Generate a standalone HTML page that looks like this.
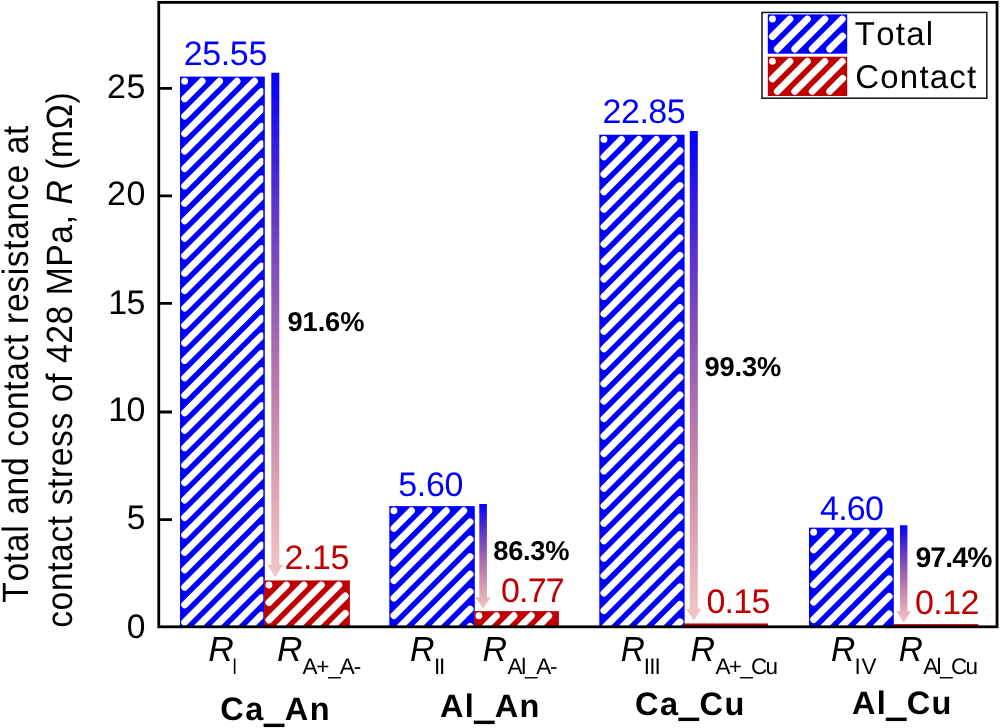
<!DOCTYPE html>
<html lang="en">
<head>
<meta charset="utf-8">
<title>Total and contact resistance</title>
<style>
html,body{margin:0;padding:0;background:#fff;}
body{width:1000px;height:728px;overflow:hidden;}
svg{display:block;}
text{font-family:"Liberation Sans", sans-serif;font-kerning:none;text-rendering:geometricPrecision;}
</style>
</head>
<body>
<svg width="1000" height="728" viewBox="0 0 1000 728">
<defs>
<linearGradient id="ag" x1="0" y1="0" x2="0" y2="1"><stop offset="0" stop-color="#0000FF" stop-opacity="1"/><stop offset="1" stop-color="#C00000" stop-opacity="0.22"/></linearGradient>
<clipPath id="c0"><rect x="180" y="76.61" width="83.3" height="550.09"/></clipPath>
<clipPath id="c1"><rect x="264.3" y="580.41" width="85.6" height="46.29"/></clipPath>
<clipPath id="c2"><rect x="389.3" y="506.13" width="85.5" height="120.57"/></clipPath>
<clipPath id="c3"><rect x="474.3" y="611.1" width="84.6" height="15.6"/></clipPath>
<clipPath id="c4"><rect x="599.3" y="134.74" width="85.3" height="491.96"/></clipPath>
<clipPath id="c5"><rect x="684.3" y="623.47" width="83.7" height="3.23"/></clipPath>
<clipPath id="c6"><rect x="809" y="527.66" width="84.8" height="99.04"/></clipPath>
<clipPath id="c7"><rect x="893.5" y="624.12" width="84.9" height="2.58"/></clipPath>
</defs>
<rect width="1000" height="728" fill="#fff"/>
<rect x="180" y="76.61" width="84.8" height="550.59" fill="#0000FF"/>
<path d="M184.65 81.26L184.65 81.26M184.65 98.71L202.1 81.26M184.65 116.16L219.55 81.26M184.65 133.61L237 81.26M184.65 151.06L254.45 81.26M184.65 168.51L261.6 91.56M184.65 185.96L261.6 109.01M184.65 203.41L261.6 126.46M184.65 220.86L261.6 143.91M184.65 238.31L261.6 161.36M184.65 255.76L261.6 178.81M184.65 273.21L261.6 196.26M184.65 290.66L261.6 213.71M184.65 308.11L261.6 231.16M184.65 325.56L261.6 248.61M184.65 343.01L261.6 266.06M184.65 360.46L261.6 283.51M184.65 377.91L261.6 300.96M184.65 395.36L261.6 318.41M184.65 412.81L261.6 335.86M184.65 430.26L261.6 353.31M184.65 447.71L261.6 370.76M184.65 465.16L261.6 388.21M184.65 482.61L261.6 405.66M184.65 500.06L261.6 423.11M184.65 517.51L261.6 440.56M184.65 534.96L261.6 458.01M184.65 552.41L261.6 475.46M184.65 569.86L261.6 492.91M184.65 587.31L261.6 510.36M184.65 604.76L261.6 527.81M184.65 622.21L261.6 545.26M197.61 626.7L261.6 562.71M215.06 626.7L261.6 580.16M232.51 626.7L261.6 597.61M249.96 626.7L261.6 615.06" stroke="#fff" stroke-width="6.9" stroke-linecap="round" fill="none" clip-path="url(#c0)"/>
<rect x="264.3" y="580.41" width="85.6" height="46.79" fill="#C00000"/>
<path d="M268.95 585.06L268.95 585.06M268.95 602.51L286.4 585.06M268.95 619.96L303.85 585.06M279.66 626.7L321.3 585.06M297.11 626.7L338.75 585.06M314.56 626.7L345.25 596.01M332.01 626.7L345.25 613.46" stroke="#fff" stroke-width="6.9" stroke-linecap="round" fill="none" clip-path="url(#c1)"/>
<rect x="389.3" y="506.13" width="85.5" height="121.07" fill="#0000FF"/>
<path d="M393.95 510.78L393.95 510.78M393.95 528.23L411.4 510.78M393.95 545.68L428.85 510.78M393.95 563.13L446.3 510.78M393.95 580.58L463.75 510.78M393.95 598.03L470.15 521.83M393.95 615.48L470.15 539.28M400.18 626.7L470.15 556.73M417.63 626.7L470.15 574.18M435.08 626.7L470.15 591.63M452.53 626.7L470.15 609.08M469.98 626.7L470.15 626.53" stroke="#fff" stroke-width="6.9" stroke-linecap="round" fill="none" clip-path="url(#c2)"/>
<rect x="474.3" y="611.1" width="84.6" height="16.1" fill="#C00000"/>
<path d="M478.95 615.75L478.95 615.75M485.45 626.7L496.4 615.75M502.9 626.7L513.85 615.75M520.35 626.7L531.3 615.75M537.8 626.7L548.75 615.75" stroke="#fff" stroke-width="6.9" stroke-linecap="round" fill="none" clip-path="url(#c3)"/>
<rect x="599.3" y="134.74" width="85.3" height="492.46" fill="#0000FF"/>
<path d="M603.95 139.39L603.95 139.39M603.95 156.84L621.4 139.39M603.95 174.29L638.85 139.39M603.95 191.74L656.3 139.39M603.95 209.19L673.75 139.39M603.95 226.64L679.95 150.64M603.95 244.09L679.95 168.09M603.95 261.54L679.95 185.54M603.95 278.99L679.95 202.99M603.95 296.44L679.95 220.44M603.95 313.89L679.95 237.89M603.95 331.34L679.95 255.34M603.95 348.79L679.95 272.79M603.95 366.24L679.95 290.24M603.95 383.69L679.95 307.69M603.95 401.14L679.95 325.14M603.95 418.59L679.95 342.59M603.95 436.04L679.95 360.04M603.95 453.49L679.95 377.49M603.95 470.94L679.95 394.94M603.95 488.39L679.95 412.39M603.95 505.84L679.95 429.84M603.95 523.29L679.95 447.29M603.95 540.74L679.95 464.74M603.95 558.19L679.95 482.19M603.95 575.64L679.95 499.64M603.95 593.09L679.95 517.09M603.95 610.54L679.95 534.54M605.24 626.7L679.95 551.99M622.69 626.7L679.95 569.44M640.14 626.7L679.95 586.89M657.59 626.7L679.95 604.34M675.04 626.7L679.95 621.79" stroke="#fff" stroke-width="6.9" stroke-linecap="round" fill="none" clip-path="url(#c4)"/>
<rect x="684.3" y="623.47" width="83.7" height="3.73" fill="#C00000"/>
<rect x="809" y="527.66" width="84.8" height="99.54" fill="#0000FF"/>
<path d="M813.65 532.31L813.65 532.31M813.65 549.76L831.1 532.31M813.65 567.21L848.55 532.31M813.65 584.66L866 532.31M813.65 602.11L883.45 532.31M813.65 619.56L889.15 544.06M823.96 626.7L889.15 561.51M841.41 626.7L889.15 578.96M858.86 626.7L889.15 596.41M876.31 626.7L889.15 613.86" stroke="#fff" stroke-width="6.9" stroke-linecap="round" fill="none" clip-path="url(#c6)"/>
<rect x="893.5" y="624.12" width="84.9" height="3.08" fill="#C00000"/>
<polygon points="271.3,72.7 279.3,72.7 279.3,564.8 283.2,564.8 275.3,577.4 267.4,564.8 271.3,564.8" fill="url(#ag)"/>
<polygon points="479.3,504.1 486.9,504.1 486.9,597.6 490.6,597.6 483.1,608.8 475.6,597.6 479.3,597.6" fill="url(#ag)"/>
<polygon points="689.8,130.9 697.8,130.9 697.8,608.8 701.6,608.8 693.8,620.4 686,608.8 689.8,608.8" fill="url(#ag)"/>
<polygon points="900,525.3 907.4,525.3 907.4,611.3 911,611.3 903.7,622.5 896.4,611.3 900,611.3" fill="url(#ag)"/>
<rect x="158.75" y="2.35" width="838.3" height="624.45" fill="none" stroke="#000" stroke-width="2.8"/>
<path d="M158.75 519.55H172M158.75 412H172M158.75 303.3H172M158.75 195.8H172M158.75 88.45H172" stroke="#000" stroke-width="2.8" fill="none"/>
<rect x="762" y="12.45" width="224.8" height="85.75" fill="#fff" stroke="#111" stroke-width="1.5"/>
<rect x="767.8" y="14.4" width="79.4" height="39.3" fill="#0000FF"/>
<path d="M772.45 19.05L772.45 19.05M772.45 36.5L789.9 19.05M777.35 49.05L807.35 19.05M794.8 49.05L824.8 19.05M812.25 49.05L842.25 19.05M829.7 49.05L842.55 36.2" stroke="#fff" stroke-width="6.9" stroke-linecap="round" fill="none"/>
<rect x="767.8" y="56.7" width="79.4" height="39.3" fill="#C00000"/>
<path d="M772.45 61.35L772.45 61.35M772.45 78.8L789.9 61.35M777.35 91.35L807.35 61.35M794.8 91.35L824.8 61.35M812.25 91.35L842.25 61.35M829.7 91.35L842.55 78.5" stroke="#fff" stroke-width="6.9" stroke-linecap="round" fill="none"/>
<text x="107" y="97.75" font-size="34" fill="#000" letter-spacing="0.69">25</text>
<text x="107" y="205.1" font-size="34" fill="#000" letter-spacing="0.69">20</text>
<text x="108.2" y="313.5" font-size="34" fill="#000" letter-spacing="-0.51">15</text>
<text x="108.2" y="421.3" font-size="34" fill="#000" letter-spacing="-0.51">10</text>
<text x="126.81" y="528.85" font-size="34" fill="#000" textLength="18.69" lengthAdjust="spacingAndGlyphs">5</text>
<text x="126.81" y="637.5" font-size="34" fill="#000" textLength="18.69" lengthAdjust="spacingAndGlyphs">0</text>
<text x="183.7" y="65.4" font-size="34" fill="#0000FF" letter-spacing="-0.37">25.55</text>
<text x="284.5" y="569.3" font-size="34" fill="#C00000" letter-spacing="-0.42">2.15</text>
<text x="398.2" y="495.8" font-size="34" fill="#0000FF" letter-spacing="-0.29">5.60</text>
<text x="500.9" y="601.8" font-size="34" fill="#C00000" letter-spacing="-0.79">0.77</text>
<text x="602.5" y="122.9" font-size="34" fill="#0000FF" letter-spacing="-0.47">22.85</text>
<text x="706.4" y="613.3" font-size="34" fill="#C00000" letter-spacing="-0.75">0.15</text>
<text x="820" y="519.7" font-size="34" fill="#0000FF" letter-spacing="-0.75">4.60</text>
<text x="914.9" y="613.6" font-size="34" fill="#C00000" letter-spacing="-0.55">0.12</text>
<text x="287.5" y="331" font-size="27.3" fill="#000" font-weight="bold" letter-spacing="-0.11">91.6%</text>
<text x="493.3" y="559.6" font-size="27.3" fill="#000" font-weight="bold" letter-spacing="-0.31">86.3%</text>
<text x="704.5" y="376.3" font-size="27.3" fill="#000" font-weight="bold" letter-spacing="-0.16">99.3%</text>
<text x="915.4" y="567.4" font-size="28.3" fill="#000" font-weight="bold" letter-spacing="-0.79">97.4%</text>
<text x="854.8" y="44.7" font-size="33" fill="#000" letter-spacing="1.22">Total</text>
<text x="855.3" y="88" font-size="33" fill="#000" letter-spacing="1.19">Contact</text>
<text x="208.28" y="661.3" font-size="34.8" fill="#000" font-style="italic" textLength="25.55" lengthAdjust="spacingAndGlyphs">R</text>
<text x="232.17" y="674.4" font-size="22.5" fill="#000" textLength="4.79" lengthAdjust="spacingAndGlyphs">I</text>
<text x="276.99" y="661.3" font-size="34.8" fill="#000" font-style="italic" textLength="25.44" lengthAdjust="spacingAndGlyphs">R</text>
<text x="302.4" y="674.4" font-size="22.5" fill="#000" letter-spacing="-1.09">A+_A-</text>
<text x="410.02" y="661.3" font-size="34.8" fill="#000" font-style="italic" textLength="24.5" lengthAdjust="spacingAndGlyphs">R</text>
<text x="434" y="674.4" font-size="22.5" fill="#000" letter-spacing="-1.25">II</text>
<text x="482.62" y="661.3" font-size="34.8" fill="#000" font-style="italic" textLength="24.5" lengthAdjust="spacingAndGlyphs">R</text>
<text x="507.4" y="674.4" font-size="22.5" fill="#000" letter-spacing="-1.23">Al_A-</text>
<text x="620.64" y="661.3" font-size="34.8" fill="#000" font-style="italic" textLength="24.08" lengthAdjust="spacingAndGlyphs">R</text>
<text x="643.8" y="674.4" font-size="22.5" fill="#000" letter-spacing="-0.85">III</text>
<text x="690.62" y="661.3" font-size="34.8" fill="#000" font-style="italic" textLength="24.5" lengthAdjust="spacingAndGlyphs">R</text>
<text x="715.4" y="674.4" font-size="22.5" fill="#000" letter-spacing="-1.68">A+_Cu</text>
<text x="831.03" y="661.3" font-size="34.8" fill="#000" font-style="italic" textLength="24.29" lengthAdjust="spacingAndGlyphs">R</text>
<text x="854.4" y="674.4" font-size="22.5" fill="#000" letter-spacing="0.75">IV</text>
<text x="898.64" y="661.3" font-size="34.8" fill="#000" font-style="italic" textLength="24.08" lengthAdjust="spacingAndGlyphs">R</text>
<text x="923.2" y="674.4" font-size="22.5" fill="#000" letter-spacing="-1.59">Al_Cu</text>
<text x="220.3" y="720.3" font-size="32.5" fill="#000" font-weight="bold" letter-spacing="1.58">Ca<tspan dy="1.7" stroke="#000" stroke-width="2.2">_</tspan><tspan dy="-1.7">An</tspan></text>
<text x="440" y="717" font-size="32.5" fill="#000" font-weight="bold" letter-spacing="1.39">Al<tspan dy="1.7" stroke="#000" stroke-width="2.2">_</tspan><tspan dy="-1.7">An</tspan></text>
<text x="635" y="714.6" font-size="32.5" fill="#000" font-weight="bold" letter-spacing="1.58">Ca<tspan dy="1.7" stroke="#000" stroke-width="2.2">_</tspan><tspan dy="-1.7">Cu</tspan></text>
<text x="852" y="714" font-size="32.5" fill="#000" font-weight="bold" letter-spacing="1.39">Al<tspan dy="1.7" stroke="#000" stroke-width="2.2">_</tspan><tspan dy="-1.7">Cu</tspan></text>
<text transform="translate(28 602.7) scale(1.09 1) rotate(-90)" x="0" y="0" font-size="33.6" fill="#000" letter-spacing="0.66">Total and contact resistance at</text>
<text transform="translate(71.8 626.8) scale(1.09 1) rotate(-90)" x="-1" y="0" font-size="33.6" fill="#000" letter-spacing="0.61" style="white-space:pre"><tspan>contact stress of 428 MPa, </tspan><tspan font-style="italic">R</tspan><tspan> (mΩ)</tspan></text>
</svg>
</body>
</html>
